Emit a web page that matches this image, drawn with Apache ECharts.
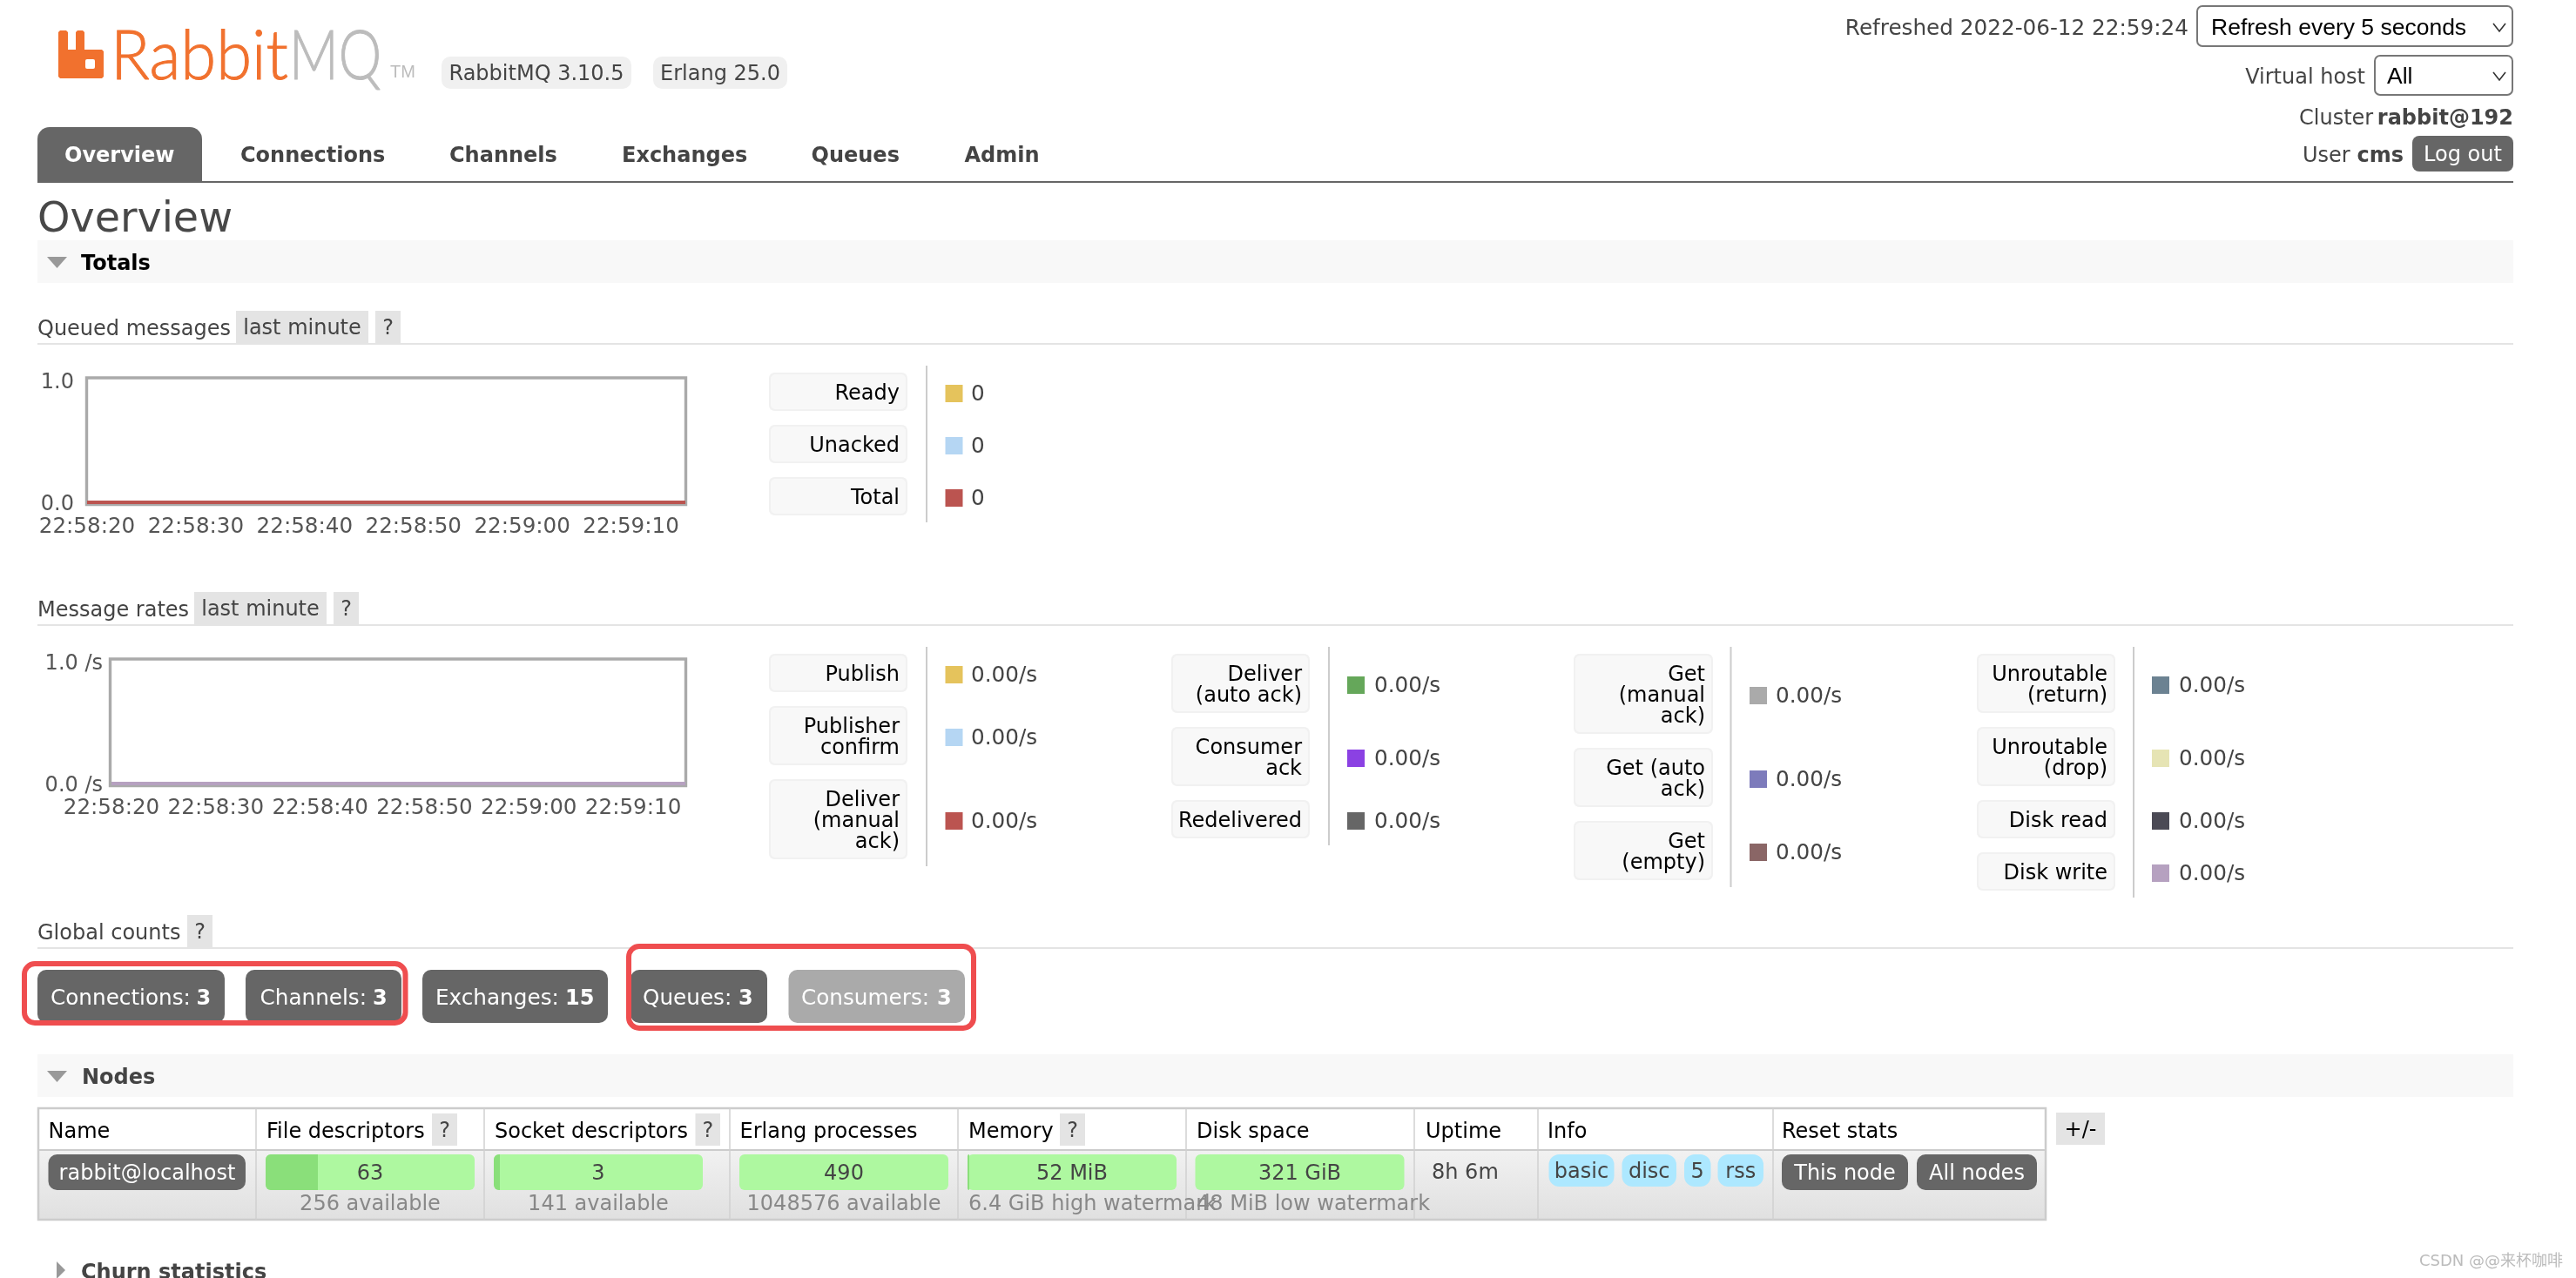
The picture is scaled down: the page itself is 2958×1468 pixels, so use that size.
<!DOCTYPE html>
<html>
<head>
<meta charset="utf-8">
<title>RabbitMQ Overview</title>
<style>
html,body{margin:0;padding:0;background:#fff;}
#main{width:2958px;height:1468px;}
</style>
<script src="https://cdn.jsdelivr.net/npm/echarts@6/dist/echarts.min.js"></script>
</head>
<body>
<div id="main"></div>
<script>
// seconds after 22:58:20, one sample every 5 s
var sampleSeconds = [0, 5, 10, 15, 20, 25, 30, 35, 40, 45, 50, 55];
var timeLabels = ['22:58:20', '22:58:30', '22:58:40', '22:58:50', '22:59:00', '22:59:10'];

var readyCounts = [0, 0, 0, 0, 0, 0, 0, 0, 0, 0, 0, 0];
var unackedCounts = [0, 0, 0, 0, 0, 0, 0, 0, 0, 0, 0, 0];
var totalCounts = [0, 0, 0, 0, 0, 0, 0, 0, 0, 0, 0, 0];
// every message rate read 0.00/s on the page
var idleRates = [0, 0, 0, 0, 0, 0, 0, 0, 0, 0, 0, 0];

var queuedNames = ['Ready', 'Unacked', 'Total'];
var queuedValues = ['0', '0', '0'];
var queuedColors = ['#e5c35c', '#b5d6f3', '#bb5450'];

var rateNames = [
	['Publish', 'Publisher\nconfirm', 'Deliver\n(manual\nack)'],
	['Deliver\n(auto ack)', 'Consumer\nack', 'Redelivered'],
	['Get\n(manual\nack)', 'Get (auto\nack)', 'Get\n(empty)'],
	['Unroutable\n(return)', 'Unroutable\n(drop)', 'Disk read', 'Disk write']
];
var rateValues = [
	['0.00/s', '0.00/s', '0.00/s'],
	['0.00/s', '0.00/s', '0.00/s'],
	['0.00/s', '0.00/s', '0.00/s'],
	['0.00/s', '0.00/s', '0.00/s', '0.00/s']
];
var rateColors = [
	['#e5c35c', '#b5d6f3', '#bb5450'],
	['#65a75a', '#8b41e3', '#666666'],
	['#aaaaaa', '#7d7bbb', '#8a6666'],
	['#6c8292', '#e6e4b4', '#4b4a55', '#b6a1c0']
];

var globalCounts = [
	['Connections:', '3'], ['Channels:', '3'], ['Exchanges:', '15'], ['Queues:', '3'], ['Consumers:', '3']
];
var tabNames = ['Connections', 'Channels', 'Exchanges', 'Queues', 'Admin'];
var nodeHeaders = ['Name', 'File descriptors', 'Socket descriptors', 'Erlang processes', 'Memory', 'Disk space', 'Uptime', 'Info', 'Reset stats'];
var nodeUsed = ['63', '3', '490', '52 MiB', '321 GiB'];
var nodeLimits = ['256 available', '141 available', '1048576 available', '6.4 GiB high watermark', '48 MiB low watermark'];
var nodeInfo = ['basic', 'disc', '5', 'rss'];

var FONT = '"DejaVu Sans"';
var els = [];

function box(x1, y1, x2, y2, fill, r, z) {
	els.push({type: 'rect', z: z || 1, shape: {x: x1, y: y1, width: x2 - x1, height: y2 - y1, r: r || 0}, style: {fill: fill}});
}
function frame(x1, y1, x2, y2, color, w, r, z) {
	els.push({type: 'rect', z: z || 3, shape: {x: x1, y: y1, width: x2 - x1, height: y2 - y1, r: r || 0}, style: {fill: 'none', stroke: color, lineWidth: w}});
}
// text sits a little under its box centre in the reference
function txt(x, y, s, color, opt) {
	opt = opt || {};
	els.push({type: 'text', z: 5, style: {
		x: x, y: y + 6, text: s, fill: color,
		fontFamily: opt.family || FONT, fontSize: opt.size || 24, fontWeight: opt.weight || 'normal',
		align: opt.align || 'left', verticalAlign: 'middle'
	}});
}
function tag(x1, y1, x2, y2, s, color) {
	box(x1, y1, x2, y2, '#e4e4e4');
	txt((x1 + x2) / 2, (y1 + y2) / 2 - 4, s, color || '#444', {align: 'center'});
}
function tri(pts, color) {
	els.push({type: 'polygon', z: 2, shape: {points: pts}, style: {fill: color}});
}
function chevron(cx, cy) {
	els.push({type: 'polyline', z: 5, shape: {points: [[cx - 7, cy - 4], [cx, cy + 5], [cx + 7, cy - 4]]}, style: {fill: 'none', stroke: '#333', lineWidth: 1.6}});
}
function logoText(x, s, color, sx) {
	els.push({type: 'text', z: 5, x: x, y: 66, scaleX: sx, style: {x: 0, y: 0, text: s, fill: color, stroke: color, lineWidth: 1, fontFamily: '"Lato","Liberation Sans"', fontWeight: 300, fontSize: 78, align: 'left', verticalAlign: 'middle'}});
}

// legend column: label card, separator, swatch and value, stacked from the label line count
function legendColumn(top, cardX1, cardX2, sepX, swatchX, valueX, names, values, colors) {
	var y = top;
	names.forEach(function(name, i){
		var lines = name.split('\n');
		var h = 44 + 24 * (lines.length - 1);
		box(cardX1, y, cardX2, y + h, '#f8f8f8', 6);
		frame(cardX1 + 1, y + 1, cardX2 - 1, y + h - 1, '#f1f1f1', 2, 6, 2);
		lines.forEach(function(line, j){
			txt(cardX2 - 9, y + 19 + 24 * j, line, '#000', {align: 'right'});
		});
		var mid = y + h / 2 + 2;
		box(swatchX, mid - 10, swatchX + 20, mid + 10, colors[i]);
		txt(valueX, mid - 4, values[i], '#444', {size: 24.7});
		y += h + 16;
	});
	box(sepX - 1, top - 8, sepX + 1, y - 8, '#cccccc');
}

/* logo */
tri([[67, 37], [69, 35], [76, 35], [78, 37], [78, 57], [87, 57], [87, 37], [89, 35], [95, 35], [97, 37], [97, 57], [117, 57], [119, 59], [119, 88], [117, 90], [69, 90], [67, 88]], '#f1712e');
box(98, 68, 109, 79, '#fff', 2, 3);
logoText(127, 'Rabbit', '#f1712e', 0.95);
logoText(332, 'MQ', '#bcbcbc', 0.8);
txt(448, 77, 'TM', '#bcbcbc', {family: '"Liberation Sans"', size: 20});
box(507, 65, 725, 102, '#f0f0f0', 10);
txt(616, 80, 'RabbitMQ 3.10.5', '#444', {align: 'center'});
box(750, 65, 904, 102, '#f0f0f0', 10);
txt(827, 80, 'Erlang 25.0', '#444', {align: 'center'});

/* top right block */
txt(2513, 28, 'Refreshed 2022-06-12 22:59:24', '#444', {align: 'right', size: 24.7});
frame(2523, 7, 2885, 53, '#777', 2, 6);
txt(2539, 27, 'Refresh every 5 seconds', '#000', {family: '"Liberation Sans"', size: 26.5});
chevron(2870, 31);
txt(2716, 84, 'Virtual host', '#444', {align: 'right'});
frame(2727, 64, 2885, 109, '#777', 2, 6);
txt(2741, 83, 'All', '#000', {family: '"Liberation Sans"', size: 26.5});
chevron(2870, 87);
txt(2640, 131, 'Cluster', '#444');
txt(2886, 131, 'rabbit@192', '#444', {align: 'right', weight: 'bold'});
txt(2644, 174, 'User', '#444');
txt(2760, 174, 'cms', '#444', {align: 'right', weight: 'bold'});
box(2770, 156, 2886, 197, '#666', 8);
txt(2828, 173, 'Log out', '#fff', {align: 'center'});

/* tabs */
box(43, 146, 232, 210, '#666', [14, 14, 0, 0]);
txt(74, 174, 'Overview', '#fff', {weight: 'bold'});
var tabX = [276, 516, 714, 931.5, 1107.5];
tabNames.forEach(function(name, i){
	txt(tabX[i], 174, name, '#444', {weight: 'bold'});
});
box(43, 208, 2886, 210, '#666');
txt(43, 248, 'Overview', '#484848', {size: 47.6});

/* Totals */
box(43, 276, 2886, 325, '#f8f8f8');
tri([[54, 295], [77, 295], [65.5, 308]], '#999');
txt(93, 298, 'Totals', '#000', {weight: 'bold'});

/* Queued messages */
txt(43, 373, 'Queued messages', '#444');
tag(271, 357, 423, 394, 'last minute');
tag(431, 357, 460, 394, '?');
box(43, 394, 2886, 396, '#e4e4e4');
frame(99.5, 434, 787.5, 579.5, '#aaaaaa', 3.4);
legendColumn(428, 883, 1042, 1064, 1085.5, 1115, queuedNames, queuedValues, queuedColors);

/* Message rates */
txt(43, 696, 'Message rates', '#444');
tag(223, 680, 375, 717, 'last minute');
tag(383, 680, 412, 717, '?');
box(43, 717, 2886, 719, '#e4e4e4');
frame(126.5, 757, 787.5, 902.5, '#aaaaaa', 3.4);
legendColumn(751, 883, 1042, 1064, 1085.5, 1115, rateNames[0], rateValues[0], rateColors[0]);
legendColumn(751, 1345, 1504, 1526, 1547, 1578, rateNames[1], rateValues[1], rateColors[1]);
legendColumn(751, 1807, 1967, 1987.5, 2009, 2039, rateNames[2], rateValues[2], rateColors[2]);
legendColumn(751, 2270, 2429, 2450, 2471, 2502, rateNames[3], rateValues[3], rateColors[3]);

/* Global counts */
txt(43, 1067, 'Global counts', '#444');
tag(215, 1051, 244, 1088, '?');
box(43, 1088, 2886, 1090, '#e4e4e4');
var countBox = [[43, 258, 58, 225.5], [282, 461, 298.5, 428], [485, 698, 500, 649], [724, 881, 738, 848], [905.5, 1108, 920, 1076]];
globalCounts.forEach(function(item, i){
	var b = countBox[i];
	box(b[0], 1114, b[1], 1175, i === 4 ? '#aaaaaa' : '#666', 10);
	txt(b[2], 1142, item[0], '#fff', {size: 24.7});
	txt(b[3], 1142, item[1], '#fff', {weight: 'bold'});
});
frame(28, 1107, 465.5, 1175, '#ef4d4f', 6, 12, 4);
frame(722, 1087, 1118, 1181, '#ef4d4f', 6, 12, 4);

/* Nodes */
box(43, 1211, 2886, 1260, '#f8f8f8');
tri([[54, 1230], [77, 1230], [65.5, 1243]], '#999');
txt(94, 1233, 'Nodes', '#444', {weight: 'bold'});

box(43, 1322, 2350, 1401, {type: 'linear', x: 0, y: 0, x2: 0, y2: 1, colorStops: [{offset: 0, color: '#f1f1f1'}, {offset: 1, color: '#e0e0e0'}]});
frame(44, 1273, 2349, 1401, '#cccccc', 2.5);
box(43, 1320, 2350, 1322, '#cccccc', 0, 3);
var colLines = [294, 556, 838, 1100, 1362, 1624, 1766, 2036];
colLines.forEach(function(x){
	box(x - 0.75, 1273, x + 0.75, 1401, '#d0d0d0', 0, 3);
});
var headX = [55.5, 306, 568, 849.5, 1112, 1374, 1637, 1777, 2046];
nodeHeaders.forEach(function(name, i){
	txt(headX[i], 1295, name, '#000');
});
tag(496, 1279, 525, 1316, '?');
tag(798.5, 1279, 827, 1316, '?');
tag(1217, 1279, 1246, 1316, '?');
tag(2361, 1278, 2417, 1315, '+/-', '#000');

box(55.5, 1326, 282, 1367, '#666', 10);
txt(169, 1343, 'rabbit@localhost', '#fff', {align: 'center'});
var barX = [[305, 545, 365], [567, 807, 574], [849, 1089, 849], [1111, 1351, 1113], [1372.5, 1612.5, 1372.5]];
barX.forEach(function(b, i){
	box(b[0], 1326, b[1], 1367, '#aef8a0', 6);
	if (b[2] > b[0]) box(b[0], 1326, b[2], 1367, '#8adf7a', [6, 0, 0, 6], 2);
	txt((b[0] + b[1]) / 2, 1343, nodeUsed[i], '#444', {align: 'center'});
});
txt(425, 1378, nodeLimits[0], '#888', {align: 'center'});
txt(687, 1378, nodeLimits[1], '#888', {align: 'center'});
txt(969, 1378, nodeLimits[2], '#888', {align: 'center'});
txt(1112, 1378, nodeLimits[3], '#888');
txt(1374, 1378, nodeLimits[4], '#888');
txt(1644, 1342, '8h 6m', '#444');
var pillX = [[1778.5, 1853.5], [1862.5, 1925], [1934, 1964.5], [1972.5, 2025]];
nodeInfo.forEach(function(s, i){
	box(pillX[i][0], 1326, pillX[i][1], 1363, '#ade8ff', 12);
	txt((pillX[i][0] + pillX[i][1]) / 2, 1341, s, '#444', {align: 'center'});
});
box(2046, 1326, 2191, 1367, '#666', 10);
txt(2118.5, 1343, 'This node', '#fff', {align: 'center'});
box(2201, 1326, 2339, 1367, '#666', 10);
txt(2270, 1343, 'All nodes', '#fff', {align: 'center'});

/* Churn + watermark */
tri([[65, 1449], [75, 1459], [65, 1469]], '#999');
txt(93, 1457, 'Churn statistics', '#444', {weight: 'bold'});
txt(2943, 1443, 'CSDN @@来杯咖啡', '#bbbbbb', {family: '"DejaVu Sans","Noto Sans CJK SC"', size: 18, align: 'right'});

function lineSeries(name, data, color, gridIndex) {
	return {
		name: name, type: 'line', xAxisIndex: gridIndex, yAxisIndex: gridIndex,
		showSymbol: false, silent: true, animation: false,
		lineStyle: {color: color, width: 4},
		data: sampleSeconds.map(function(t, i){ return [t, data[i]]; })
	};
}
function timeAxis(gridIndex) {
	return {
		type: 'value', gridIndex: gridIndex, min: 0, max: 55, interval: 10,
		axisLine: {show: false}, axisTick: {show: false}, splitLine: {show: false},
		axisLabel: {
			margin: 16, fontFamily: FONT, fontSize: 24.6, color: '#555', showMaxLabel: false,
			formatter: function(v){ return timeLabels[v / 10] || ''; }
		}
	};
}
function valueAxis(gridIndex, unit, margin) {
	return {
		type: 'value', gridIndex: gridIndex, min: 0, max: 1, interval: 1,
		axisLine: {show: false}, axisTick: {show: false}, splitLine: {show: false},
		axisLabel: {
			margin: margin, fontFamily: FONT, fontSize: 24, color: '#555',
			verticalAlign: 'top', lineHeight: 6, // drops the label 3px under its tick, as in the reference
			formatter: function(v){ return v.toFixed(1) + unit; }
		}
	};
}

var series = [
	lineSeries(queuedNames[0], readyCounts, queuedColors[0], 0),
	lineSeries(queuedNames[1], unackedCounts, queuedColors[1], 0),
	lineSeries(queuedNames[2], totalCounts, queuedColors[2], 0)
];
rateNames.forEach(function(col, c){
	col.forEach(function(name, i){
		series.push(lineSeries(name.replace(/\n/g, ' '), idleRates, rateColors[c][i], 1));
	});
});

var myChart = echarts.init(document.getElementById('main'));
myChart.setOption({
	animation: false,
	backgroundColor: '#fff',
	grid: [
		{left: 100, top: 437, width: 687, height: 140, show: false},
		{left: 128, top: 760, width: 659, height: 140, show: false}
	],
	xAxis: [timeAxis(0), timeAxis(1)],
	yAxis: [valueAxis(0, '', 15), valueAxis(1, ' /s', 10)],
	series: series,
	graphic: {elements: els}
});
</script>
</body>
</html>
